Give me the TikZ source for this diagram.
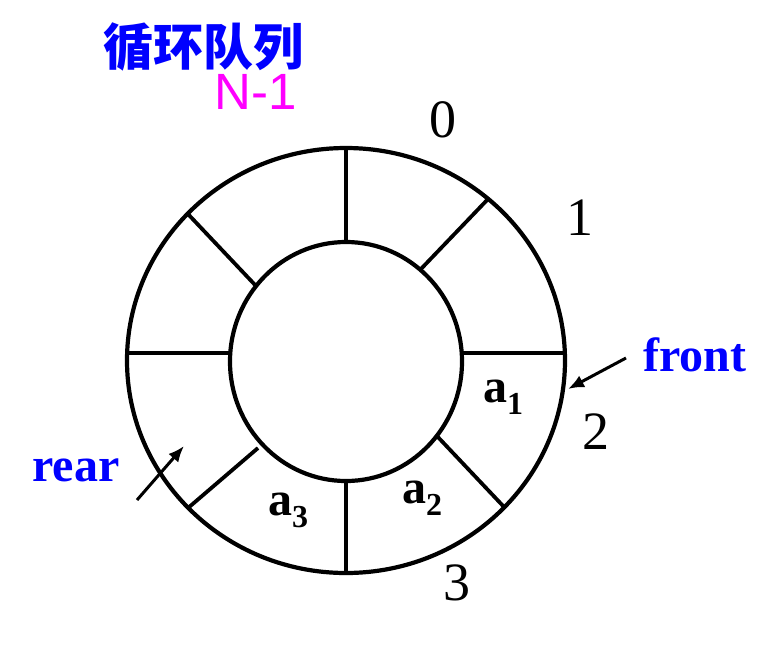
\documentclass[tikz,border=0pt]{standalone}
\usepackage{fontspec}
\usetikzlibrary{arrows.meta}
\setmainfont{Liberation Serif}
\newfontfamily\cjk{Noto Sans CJK SC}
\newfontfamily\arialf{Liberation Sans}
\definecolor{ttlblue}{RGB}{0,0,255}
\definecolor{ttlmag}{RGB}{255,0,255}
\newcommand{\alab}[1]{{\fontsize{48}{56}\selectfont\bfseries a\raisebox{-12pt}{\fontsize{32}{38}\selectfont #1}}}
\begin{document}
\begin{tikzpicture}[x=1pt,y=-1pt,
  ring/.style={line width=4.2pt},
  divider/.style={line width=3.8pt},
  ptr/.style={line width=3pt,-{Latex[length=16pt,width=13pt]}},
  idx/.style={font=\fontsize{54}{60}\selectfont,inner sep=0pt},
  lbl/.style={font=\fontsize{48}{56}\selectfont\bfseries,text=ttlblue,inner sep=0pt},
  slot/.style={inner sep=0pt,anchor=base west}]
\useasboundingbox (0,0) rectangle (779,651);
% title
\node[inner sep=0pt,text=ttlblue] (title) at (203,47) {\cjk\fontsize{50}{56}\selectfont\bfseries 循环队列};
\node[inner sep=0pt,text=ttlmag] (nm1) at (256,92) {\arialf\fontsize{51}{56}\selectfont N-1};
% rings
\draw[ring] (346,360.5) ellipse [x radius=219pt, y radius=212.5pt];
\draw[ring] (346,361.5) ellipse [x radius=116pt, y radius=119.5pt];
% divider end points
\coordinate (t1) at (346,148);   \coordinate (t2) at (346,242);
\coordinate (b1) at (346,481);   \coordinate (b2) at (346,573);
\coordinate (l1) at (128,353);   \coordinate (l2) at (230,353);
\coordinate (r1) at (462,353);   \coordinate (r2) at (565,353);
\coordinate (ur1) at (420,270);  \coordinate (ur2) at (489,198);
\coordinate (lr1) at (436,435);  \coordinate (lr2) at (505,508);
\coordinate (ll1) at (258,448);  \coordinate (ll2) at (188,508);
\coordinate (ul1) at (187,213);  \coordinate (ul2) at (257,287);
\foreach \a/\b in {t1/t2,b1/b2,l1/l2,r1/r2,ur1/ur2,lr1/lr2,ll1/ll2,ul1/ul2}
  \draw[divider] (\a) -- (\b);
% indices
\node[idx] (n0) at (443,120) {0};
\node[idx] (n1) at (580,218) {1};
\node[idx] (n2) at (596,432) {2};
\node[idx] (n3) at (457,583) {3};
% elements
\node[slot] (a1) at (483,402) {\alab{1}};
\node[slot] (a2) at (402,503) {\alab{2}};
\node[slot] (a3) at (268,515) {\alab{3}};
% pointers
\node[lbl] (front) at (695,355) {front};
\node[lbl] (rear) at (76,470) {rear};
\coordinate (ft) at (626,358); \coordinate (fh) at (568,389);
\coordinate (rt) at (137,500); \coordinate (rh) at (184,446);
\draw[ptr] (ft) -- (fh);
\draw[ptr] (rt) -- (rh);
\end{tikzpicture}
\end{document}
